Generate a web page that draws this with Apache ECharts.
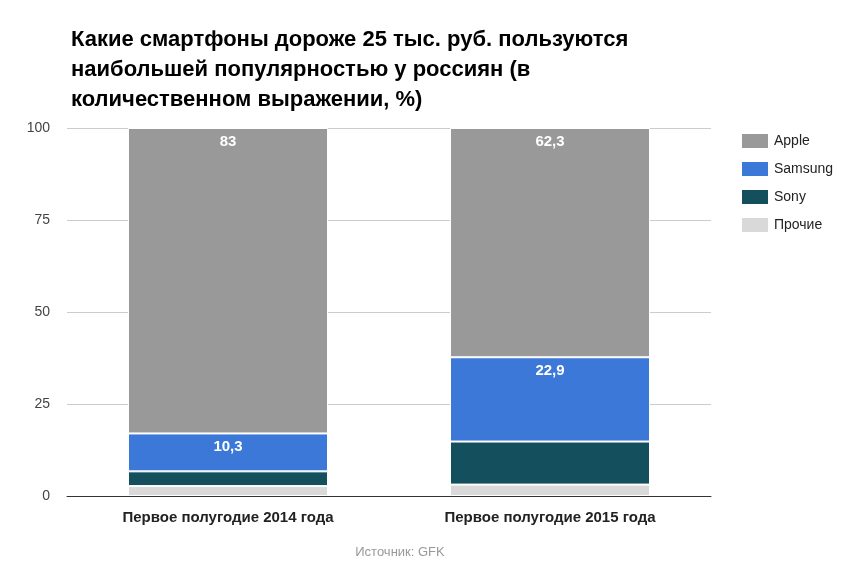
<!DOCTYPE html><html><head><meta charset="utf-8"><script src="https://cdn.jsdelivr.net/npm/echarts@6/dist/echarts.min.js"></script></head><body style="margin:0"><div id="c" style="width:856px;height:588px"></div><script>
const categories=['Первое полугодие 2014 года','Первое полугодие 2015 года'];
const other=[2.7,3.1];
const sony=[4.0,11.7];
const samsung=[10.3,22.9];
const apple=[83,62.3];
const yTicks=[0,25,50,75,100];
const lbl={show:true,position:'insideTop',color:'#fff',fontWeight:'bold',fontSize:15,fontFamily:'Liberation Sans',distance:6,formatter:p=>String(p.value).replace('.',',')};
function s(name,data,color,label){return {name,type:'bar',stack:'a',data,barWidth:200,itemStyle:{color,borderColor:'#fff',borderWidth:1},label:label?lbl:{show:false}};}
const ch=echarts.init(document.getElementById('c'));
ch.setOption({
 textStyle:{fontFamily:'Liberation Sans'},
 title:[{text:'Какие смартфоны дороже 25 тыс. руб. пользуются\nнаибольшей популярностью у россиян (в\nколичественном выражении, %)',left:66,top:20,textStyle:{fontSize:22,fontWeight:'bold',color:'#000',lineHeight:30,fontFamily:'Liberation Sans'}},
 {text:'Источник: GFK',left:395,top:541,textAlign:'center',textStyle:{fontSize:13,fontWeight:'normal',color:'#999'}}],
 legend:{orient:'vertical',left:735,top:127,itemWidth:28,itemHeight:16,itemGap:10,icon:'rect',textStyle:{fontSize:14,color:'#222'},data:['Apple','Samsung','Sony','Прочие']},
 grid:{left:67,right:145,top:128,bottom:92},
 xAxis:{type:'category',data:categories,axisTick:{show:false},axisLine:{lineStyle:{color:'#333'}},axisLabel:{fontSize:15,fontWeight:'bold',color:'#222',margin:14}},
 yAxis:{type:'value',min:0,max:100,interval:25,axisLabel:{fontSize:14,color:'#444',margin:17,formatter:v=>yTicks.includes(v)?v:''},splitLine:{lineStyle:{color:'#ccc'}}},
 series:[s('Прочие',other,'#d9d9d9'),s('Sony',sony,'#134f5c'),s('Samsung',samsung,'#3c78d8',true),s('Apple',apple,'#999999',true)]
});
</script></body></html>
